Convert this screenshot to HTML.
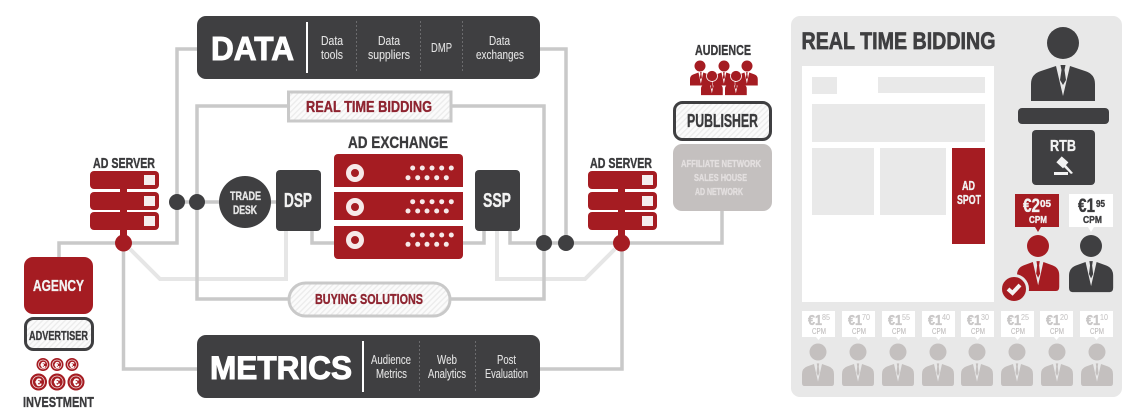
<!DOCTYPE html>
<html><head><meta charset="utf-8">
<style>
html,body{margin:0;padding:0;background:#fff;width:1137px;height:419px;overflow:hidden}
svg{display:block}
text{font-family:"Liberation Sans",sans-serif;font-weight:700;fill:currentColor;stroke:currentColor;stroke-width:.35}
.l{font-weight:400;color:#e2e2e2;font-size:12.5px;stroke-width:.1}
.w{color:#f2f2f2}
.d{color:#3a3a3c}
.c{color:#bdbaba;font-size:8px;font-weight:400;stroke-width:.1}
.p{font-size:14.5px;color:#c9c7c7}
.u{font-size:8px;color:#c9c7c7;font-weight:400;stroke-width:.1}
</style></head><body>
<svg width="1137" height="419" viewBox="0 0 1137 419" xmlns="http://www.w3.org/2000/svg">
<defs>
<pattern id="h" width="4" height="4" patternUnits="userSpaceOnUse" patternTransform="rotate(45)">
<rect width="4" height="4" fill="#fbfbfb"/><rect width="1.4" height="4" fill="#ececec"/>
</pattern>
<path id="b" d="M0 35V18Q0 8 10 5L25 0L32 30L39 0L54 5Q64 8 64 18V35Z"/>
<path id="t" d="M29.500 -1h5l-1 5l1.500 10l-3 5l-3 -5l1.500 -10z"/>
<path id="br" d="M5 35Q0 35 0 30V16Q0 7 10 4L24 0L32 28L40 0L54 4Q64 7 64 16V30Q64 35 59 35Z"/>
<g id="person"><use href="#b"/><use href="#t"/></g>
<g id="rperson"><use href="#br"/><use href="#t"/></g>
</defs>
<rect width="1137" height="419" fill="#fff"/>

<!-- pale connectors -->
<g fill="none" stroke="#e6e6e6" stroke-width="4">
<path d="M286 231V279H160L130 249"/>
<path d="M497 231V279H585L615 249"/>
</g>
<!-- connectors -->
<g fill="none" stroke="#c9c9c9" stroke-width="3.5">
<path d="M197 49H177V243H59V258"/>
<path d="M287 106H197V299H288"/>
<path d="M452 106H544V299H450"/>
<path d="M540 49H566V243"/>
<path d="M177 202H276"/>
<path d="M312 231V243H334"/>
<path d="M463 243H484V231"/>
<path d="M510 231V243H722V210"/>
<path d="M123.500 243V369H197"/>
<path d="M622 243V369H540"/>
</g>

<!-- DATA -->
<rect x="197" y="16" width="343" height="63" rx="9" fill="#3f3f41"/>
<text x="211" y="60" font-size="33" color="#fff" style="stroke-width:1" textLength="83" lengthAdjust="spacingAndGlyphs">DATA</text>
<rect x="306" y="22" width="2" height="51" fill="#fff"/>
<g stroke="#6b6b6d" stroke-width="1" stroke-dasharray="2 2">
<path d="M356.500 21V73M420.500 21V73M462.500 21V73"/>
</g>
<text class="l" x="321" y="45" textLength="22" lengthAdjust="spacingAndGlyphs">Data</text>
<text class="l" x="321" y="59" textLength="22" lengthAdjust="spacingAndGlyphs">tools</text>
<text class="l" x="378" y="45" textLength="22" lengthAdjust="spacingAndGlyphs">Data</text>
<text class="l" x="368" y="59" textLength="42" lengthAdjust="spacingAndGlyphs">suppliers</text>
<text class="l" x="431" y="52" textLength="21" lengthAdjust="spacingAndGlyphs">DMP</text>
<text class="l" x="489" y="45" textLength="21" lengthAdjust="spacingAndGlyphs">Data</text>
<text class="l" x="476" y="59" textLength="48" lengthAdjust="spacingAndGlyphs">exchanges</text>

<!-- RTB label -->
<rect x="288.500" y="92" width="162.500" height="29" fill="url(#h)" stroke="#c9c9c9" stroke-width="3"/>
<text x="306" y="112" font-size="15.500" color="#8e2430" textLength="126" lengthAdjust="spacingAndGlyphs">REAL TIME BIDDING</text>

<!-- Buying -->
<rect x="289" y="283" width="161" height="33" rx="16.500" fill="url(#h)" stroke="#c9c9c9" stroke-width="3"/>
<text x="315" y="304" font-size="14.500" color="#8e2430" textLength="108" lengthAdjust="spacingAndGlyphs">BUYING SOLUTIONS</text>

<!-- METRICS -->
<rect x="197" y="335" width="343" height="63" rx="9" fill="#3f3f41"/>
<text x="210" y="379" font-size="32" color="#fff" style="stroke-width:1" textLength="142" lengthAdjust="spacingAndGlyphs">METRICS</text>
<rect x="362" y="341" width="2" height="51" fill="#fff"/>
<g stroke="#6b6b6d" stroke-width="1" stroke-dasharray="2 2"><path d="M419.500 341V392M475.500 341V392"/></g>
<text class="l" x="371" y="364" textLength="40" lengthAdjust="spacingAndGlyphs">Audience</text>
<text class="l" x="376" y="378" textLength="31" lengthAdjust="spacingAndGlyphs">Metrics</text>
<text class="l" x="437" y="364" textLength="20" lengthAdjust="spacingAndGlyphs">Web</text>
<text class="l" x="428" y="378" textLength="38" lengthAdjust="spacingAndGlyphs">Analytics</text>
<text class="l" x="497" y="364" textLength="19" lengthAdjust="spacingAndGlyphs">Post</text>
<text class="l" x="485" y="378" textLength="43" lengthAdjust="spacingAndGlyphs">Evaluation</text>

<!-- Dots -->
<g fill="#3f3f41">
<circle cx="177" cy="202" r="8"/><circle cx="197" cy="202" r="8"/>
<circle cx="544" cy="243" r="8"/><circle cx="566" cy="243" r="8"/>
</g>

<!-- Left ad server -->
<text class="d" x="93" y="168" font-size="14.500" textLength="62" lengthAdjust="spacingAndGlyphs">AD SERVER</text>
<rect x="120" y="171" width="7" height="72" fill="#a51c22"/>
<g fill="#a51c22">
<rect x="90" y="171" width="69" height="18" rx="4"/>
<rect x="90" y="192" width="69" height="18" rx="4"/>
<rect x="90" y="212" width="69" height="18" rx="4"/>
</g>
<g fill="#f5eded">
<rect x="144" y="175" width="11" height="10"/>
<rect x="144" y="196" width="11" height="10"/>
<rect x="144" y="216" width="11" height="10"/>
</g>
<circle cx="123.500" cy="243" r="8.500" fill="#a51c22"/>

<!-- Right ad server -->
<text class="d" x="590" y="168" font-size="14.500" textLength="62" lengthAdjust="spacingAndGlyphs">AD SERVER</text>
<rect x="618" y="171" width="7" height="72" fill="#a51c22"/>
<g fill="#a51c22">
<rect x="588" y="171" width="69" height="18" rx="4"/>
<rect x="588" y="192" width="69" height="18" rx="4"/>
<rect x="588" y="212" width="69" height="18" rx="4"/>
</g>
<g fill="#f5eded">
<rect x="642" y="175" width="11" height="10"/>
<rect x="642" y="196" width="11" height="10"/>
<rect x="642" y="216" width="11" height="10"/>
</g>
<circle cx="621.500" cy="243" r="8.500" fill="#a51c22"/>

<!-- Trade desk, DSP, SSP -->
<circle cx="245" cy="202" r="26" fill="#3f3f41"/>
<text x="230" y="200" font-size="11.500" color="#e6e6e6" textLength="31" lengthAdjust="spacingAndGlyphs">TRADE</text>
<text x="233" y="214" font-size="11.500" color="#e6e6e6" textLength="24" lengthAdjust="spacingAndGlyphs">DESK</text>
<rect x="276" y="170" width="45" height="61" rx="4" fill="#3f3f41"/>
<text x="284" y="207" font-size="20" class="w" textLength="28" lengthAdjust="spacingAndGlyphs">DSP</text>
<rect x="475" y="170" width="45" height="61" rx="4" fill="#3f3f41"/>
<text x="483" y="207" font-size="20" class="w" textLength="28" lengthAdjust="spacingAndGlyphs">SSP</text>

<!-- Ad exchange -->
<text class="d" x="348" y="148" font-size="17" textLength="100" lengthAdjust="spacingAndGlyphs">AD EXCHANGE</text>
<g fill="#a51c22">
<path d="M338 154H459a4 4 0 0 1 4 4V187H334V158a4 4 0 0 1 4-4Z"/>
<rect x="334" y="192" width="129" height="28"/>
<path d="M334 226H463V255a4 4 0 0 1-4 4H338a4 4 0 0 1-4-4Z"/>
</g>
<g fill="#a51c22" stroke="#f6e9e9" stroke-width="5">
<circle cx="355" cy="173" r="6.500"/><circle cx="355" cy="207" r="6.500"/><circle cx="355" cy="240" r="6.500"/>
</g>
<g fill="#f6e9e9">
<circle cx="412.700" cy="168" r="2.500"/><circle cx="422.300" cy="168" r="2.500"/><circle cx="432" cy="168" r="2.500"/><circle cx="441.700" cy="168" r="2.500"/><circle cx="451.300" cy="168" r="2.500"/>
<circle cx="408" cy="177.700" r="2.500"/><circle cx="417.700" cy="177.700" r="2.500"/><circle cx="427" cy="177.700" r="2.500"/><circle cx="436.700" cy="177.700" r="2.500"/><circle cx="446.300" cy="177.700" r="2.500"/>
<circle cx="412.700" cy="201.700" r="2.500"/><circle cx="422.300" cy="201.700" r="2.500"/><circle cx="432" cy="201.700" r="2.500"/><circle cx="441.700" cy="201.700" r="2.500"/><circle cx="451.300" cy="201.700" r="2.500"/>
<circle cx="408" cy="211" r="2.500"/><circle cx="417.700" cy="211" r="2.500"/><circle cx="427" cy="211" r="2.500"/><circle cx="436.700" cy="211" r="2.500"/><circle cx="446.300" cy="211" r="2.500"/>
<circle cx="412.700" cy="235" r="2.500"/><circle cx="422.300" cy="235" r="2.500"/><circle cx="432" cy="235" r="2.500"/><circle cx="441.700" cy="235" r="2.500"/><circle cx="451.300" cy="235" r="2.500"/>
<circle cx="408" cy="244.300" r="2.500"/><circle cx="417.700" cy="244.300" r="2.500"/><circle cx="427" cy="244.300" r="2.500"/><circle cx="436.700" cy="244.300" r="2.500"/><circle cx="446.300" cy="244.300" r="2.500"/>
</g>

<!-- Agency -->
<rect x="24" y="257" width="69" height="57" rx="9" fill="#a51c22"/>
<text x="33" y="291" font-size="15.500" class="w" textLength="51" lengthAdjust="spacingAndGlyphs">AGENCY</text>
<rect x="25.500" y="318.500" width="67" height="31" rx="8" fill="url(#h)" stroke="#3f3f41" stroke-width="3"/>
<text class="d" x="29" y="340" font-size="13" textLength="59" lengthAdjust="spacingAndGlyphs">ADVERTISER</text>
<g fill="#a51c22" stroke="#a51c22" stroke-width="1">
<circle cx="43" cy="364.500" r="6"/><circle cx="57" cy="364.500" r="6"/><circle cx="72" cy="364.500" r="6"/>
<circle cx="38.500" cy="382" r="8"/><circle cx="57" cy="382" r="8"/><circle cx="76" cy="382" r="8"/>
</g>
<g fill="none" stroke="#f2dede" stroke-width=".8">
<circle cx="43" cy="364.500" r="4.500"/><circle cx="57" cy="364.500" r="4.500"/><circle cx="72" cy="364.500" r="4.500"/>
<circle cx="38.500" cy="382" r="6"/><circle cx="57" cy="382" r="6"/><circle cx="76" cy="382" r="6"/>
</g>
<g color="#fff" text-anchor="middle">
<text x="43" y="368" font-size="8.500">€</text><text x="57" y="368" font-size="8.500">€</text><text x="72" y="368" font-size="8.500">€</text>
<text x="38.500" y="386" font-size="11">€</text><text x="57" y="386" font-size="11">€</text><text x="76" y="386" font-size="11">€</text>
</g>
<text class="d" x="23" y="407" font-size="15" textLength="71" lengthAdjust="spacingAndGlyphs">INVESTMENT</text>

<!-- Audience -->
<text class="d" x="695" y="55" font-size="14.500" textLength="56" lengthAdjust="spacingAndGlyphs">AUDIENCE</text>
<g fill="#a51c22">
<circle cx="700" cy="66" r="5.500"/><circle cx="724" cy="66" r="5.500"/><circle cx="747" cy="66" r="5.500"/>
<use href="#person" transform="translate(690 72.500) scale(.34 .37)"/>
<use href="#person" transform="translate(713 72.500) scale(.34 .37)"/>
<use href="#person" transform="translate(736 72.500) scale(.34 .37)"/>
</g>
<g fill="#a51c22" stroke="#fff" stroke-width=".8">
<circle cx="712" cy="76" r="5.500"/><circle cx="736" cy="76" r="5.500"/>
</g>
<g fill="#a51c22">
<use href="#person" transform="translate(701 82.500) scale(.34 .36)"/>
<use href="#person" transform="translate(725 82.500) scale(.34 .36)"/>
</g>

<!-- Publisher -->
<rect x="674.500" y="102.500" width="96" height="37" rx="8" fill="url(#h)" stroke="#3f3f41" stroke-width="3"/>
<text class="d" x="687" y="127" font-size="18.500" textLength="71" lengthAdjust="spacingAndGlyphs">PUBLISHER</text>
<rect x="673" y="144" width="99" height="67" rx="9" fill="#c4c0bf"/>
<g color="#e3dfdf" font-size="10.500">
<text x="681" y="167" textLength="80" lengthAdjust="spacingAndGlyphs">AFFILIATE NETWORK</text>
<text x="694" y="181" textLength="53" lengthAdjust="spacingAndGlyphs">SALES HOUSE</text>
<text x="695" y="195" textLength="48" lengthAdjust="spacingAndGlyphs">AD NETWORK</text>
</g>

<!-- RTB panel -->
<rect x="791" y="16" width="331" height="381" rx="9" fill="#e8e8e8"/>
<text x="801.500" y="49" font-size="24.500" color="#3f3f41" style="stroke-width:.7" textLength="194" lengthAdjust="spacingAndGlyphs">REAL TIME BIDDING</text>
<rect x="802" y="66" width="192" height="236" fill="#fff"/>
<g fill="#e9e9e9">
<rect x="812" y="77" width="25" height="17"/>
<rect x="878" y="77" width="107" height="16"/>
<rect x="812" y="104" width="173" height="38"/>
<rect x="812" y="148" width="62" height="67"/>
<rect x="880" y="148" width="66" height="67"/>
</g>
<rect x="952" y="148" width="33" height="96" fill="#a51c22"/>
<text x="962" y="190" font-size="13" class="w" textLength="13" lengthAdjust="spacingAndGlyphs">AD</text>
<text x="957" y="204" font-size="13" class="w" textLength="24" lengthAdjust="spacingAndGlyphs">SPOT</text>

<!-- Auctioneer -->
<circle cx="1063" cy="43" r="16" fill="#3f3f41"/>
<use href="#person" fill="#3f3f41" transform="translate(1031 66)"/>
<rect x="1018" y="108" width="91" height="16" rx="4" fill="#3f3f41"/>
<rect x="1032" y="130" width="63" height="55" rx="4" fill="#3f3f41"/>
<text x="1050" y="151" font-size="16" class="w" textLength="26" lengthAdjust="spacingAndGlyphs">RTB</text>
<g fill="#f2f2f2">
<rect x="1058" y="158" width="9" height="8" transform="rotate(42 1062 162)"/>
<path d="M1063 166l2-2 8 9-2 1z"/>
<rect x="1054" y="172" width="14" height="3"/>
</g>

<!-- Bidders -->
<path d="M1015 194h44v33h-18l-3 5-3-5h-20z" fill="#a51c22"/>
<text x="1023" y="212" font-size="19" class="w" textLength="17" lengthAdjust="spacingAndGlyphs">€2</text>
<text x="1040" y="207" font-size="10" class="w" textLength="11" lengthAdjust="spacingAndGlyphs">05</text>
<text x="1029" y="223" font-size="10.500" class="w" textLength="18" lengthAdjust="spacingAndGlyphs">CPM</text>
<path d="M1069 194h44v33h-19l-3 5-3-5h-19z" fill="#fff"/>
<text class="d" x="1078" y="212" font-size="19" textLength="17" lengthAdjust="spacingAndGlyphs">€1</text>
<text class="d" x="1096" y="207" font-size="10" textLength="9" lengthAdjust="spacingAndGlyphs">95</text>
<text class="d" x="1083" y="223" font-size="10.500" textLength="19" lengthAdjust="spacingAndGlyphs">CPM</text>
<circle cx="1038" cy="246" r="11" fill="#a51c22"/>
<use href="#rperson" fill="#a51c22" transform="translate(1017 262) scale(.66 .83)"/>
<circle cx="1091" cy="246" r="11" fill="#3f3f41"/>
<use href="#rperson" fill="#3f3f41" transform="translate(1069 262) scale(.69 .86)"/>
<circle cx="1014" cy="289" r="13.500" fill="#a51c22" stroke="#e8e8e8" stroke-width="3"/>
<path d="M1008 289l4.500 4 7.500-8" fill="none" stroke="#f4f4f4" stroke-width="4"/>

<!-- Small bidders -->
<g fill="#fff">
<path d="M802 311h33v26h-14l-2.500 3-2.500-3h-14z"/>
<path d="M842 311h33v26h-14l-2.500 3-2.500-3h-14z"/>
<path d="M882 311h33v26h-14l-2.500 3-2.500-3h-14z"/>
<path d="M922 311h33v26h-14l-2.500 3-2.500-3h-14z"/>
<path d="M961 311h33v26h-14l-2.500 3-2.500-3h-14z"/>
<path d="M1001 311h33v26h-14l-2.500 3-2.500-3h-14z"/>
<path d="M1040 311h33v26h-14l-2.500 3-2.500-3h-14z"/>
<path d="M1080 311h33v26h-14l-2.500 3-2.500-3h-14z"/>
</g>
<text class="p" x="808" y="325" textLength="14" lengthAdjust="spacingAndGlyphs">€1</text><text class="u" x="822" y="320" textLength="8" lengthAdjust="spacingAndGlyphs">85</text><text class="c" x="812" y="334" textLength="14" lengthAdjust="spacingAndGlyphs">CPM</text>
<text class="p" x="848" y="325" textLength="14" lengthAdjust="spacingAndGlyphs">€1</text><text class="u" x="862" y="320" textLength="8" lengthAdjust="spacingAndGlyphs">70</text><text class="c" x="852" y="334" textLength="14" lengthAdjust="spacingAndGlyphs">CPM</text>
<text class="p" x="888" y="325" textLength="14" lengthAdjust="spacingAndGlyphs">€1</text><text class="u" x="902" y="320" textLength="8" lengthAdjust="spacingAndGlyphs">55</text><text class="c" x="892" y="334" textLength="14" lengthAdjust="spacingAndGlyphs">CPM</text>
<text class="p" x="928" y="325" textLength="14" lengthAdjust="spacingAndGlyphs">€1</text><text class="u" x="942" y="320" textLength="8" lengthAdjust="spacingAndGlyphs">40</text><text class="c" x="932" y="334" textLength="14" lengthAdjust="spacingAndGlyphs">CPM</text>
<text class="p" x="967" y="325" textLength="14" lengthAdjust="spacingAndGlyphs">€1</text><text class="u" x="981" y="320" textLength="8" lengthAdjust="spacingAndGlyphs">30</text><text class="c" x="971" y="334" textLength="14" lengthAdjust="spacingAndGlyphs">CPM</text>
<text class="p" x="1007" y="325" textLength="14" lengthAdjust="spacingAndGlyphs">€1</text><text class="u" x="1021" y="320" textLength="8" lengthAdjust="spacingAndGlyphs">25</text><text class="c" x="1011" y="334" textLength="14" lengthAdjust="spacingAndGlyphs">CPM</text>
<text class="p" x="1046" y="325" textLength="14" lengthAdjust="spacingAndGlyphs">€1</text><text class="u" x="1060" y="320" textLength="8" lengthAdjust="spacingAndGlyphs">20</text><text class="c" x="1050" y="334" textLength="14" lengthAdjust="spacingAndGlyphs">CPM</text>
<text class="p" x="1086" y="325" textLength="14" lengthAdjust="spacingAndGlyphs">€1</text><text class="u" x="1100" y="320" textLength="8" lengthAdjust="spacingAndGlyphs">10</text><text class="c" x="1090" y="334" textLength="14" lengthAdjust="spacingAndGlyphs">CPM</text>
<g fill="#c4c0bf">
<circle cx="818" cy="352" r="8.500"/><use href="#rperson" transform="translate(802 364) scale(.5 .63)"/>
<circle cx="858" cy="352" r="8.500"/><use href="#rperson" transform="translate(842 364) scale(.5 .63)"/>
<circle cx="898" cy="352" r="8.500"/><use href="#rperson" transform="translate(882 364) scale(.5 .63)"/>
<circle cx="938" cy="352" r="8.500"/><use href="#rperson" transform="translate(922 364) scale(.5 .63)"/>
<circle cx="977" cy="352" r="8.500"/><use href="#rperson" transform="translate(961 364) scale(.5 .63)"/>
<circle cx="1017" cy="352" r="8.500"/><use href="#rperson" transform="translate(1001 364) scale(.5 .63)"/>
<circle cx="1057" cy="352" r="8.500"/><use href="#rperson" transform="translate(1041 364) scale(.5 .63)"/>
<circle cx="1097" cy="352" r="8.500"/><use href="#rperson" transform="translate(1081 364) scale(.5 .63)"/>
</g>
</svg>
</body></html>
